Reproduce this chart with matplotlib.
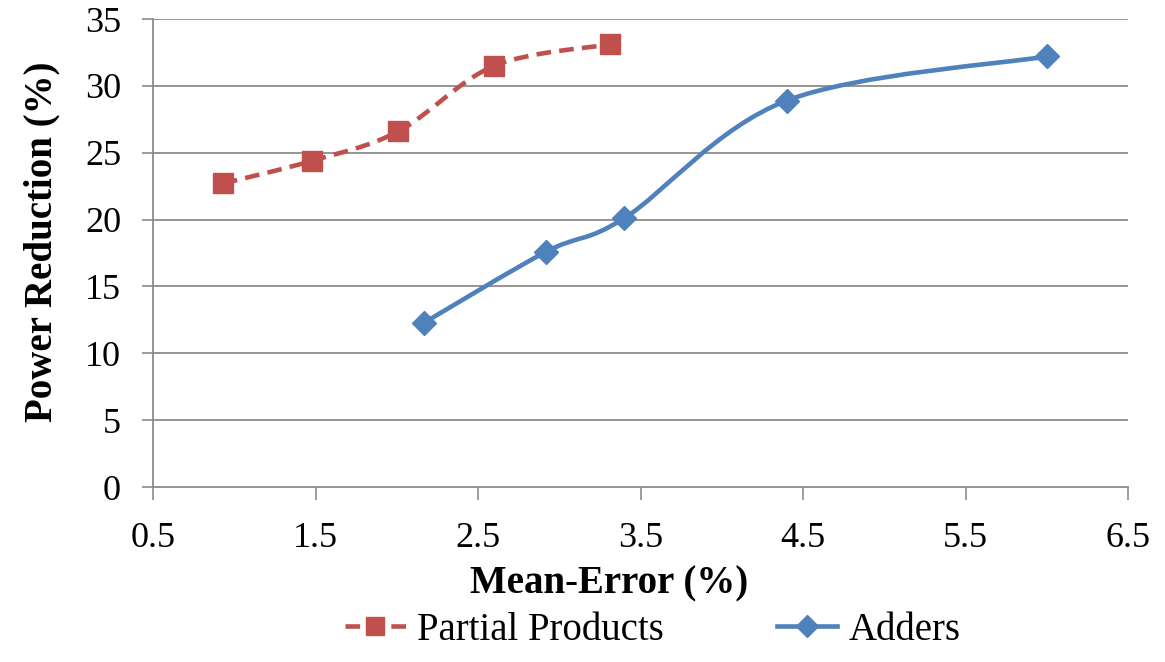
import matplotlib
matplotlib.use("Agg")
import matplotlib.pyplot as plt
from matplotlib.path import Path
from matplotlib.patches import PathPatch
from matplotlib.lines import Line2D
import numpy as np

plt.rcParams['font.family'] = ['Liberation Serif', 'DejaVu Serif']

# ---- data ----
pp_x = [0.93, 1.48, 2.01, 2.60, 3.31]
pp_y = [22.7, 24.4, 26.6, 31.5, 33.1]
add_x = [2.17, 2.92, 3.40, 4.40, 6.00]
add_y = [12.3, 17.6, 20.1, 28.9, 32.2]
series_names = ["Partial Products", "Adders"]
x_ticks = [0.5, 1.5, 2.5, 3.5, 4.5, 5.5, 6.5]
y_ticks = [0, 5, 10, 15, 20, 25, 30, 35]
x_label = "Mean-Error (%)"
y_label = "Power Reduction (%)"

RED = "#C0504D"
BLUE = "#4F81BD"
GRID = "#8C8C8C"
LW = 3.3
DASH = (0, (3.2, 1.8))


def smooth_path(xs, ys):
    """Excel-style smoothed line: cubic Bezier segments through the points."""
    P = np.column_stack([xs, ys]).astype(float)
    n = len(P)
    verts = [P[0]]
    codes = [Path.MOVETO]
    for i in range(n - 1):
        p0 = P[i - 1] if i > 0 else P[i]
        p1 = P[i]
        p2 = P[i + 1]
        p3 = P[i + 2] if i + 2 < n else P[i + 1]
        c1 = p1 + (p2 - p0) / 6.0
        c2 = p2 - (p3 - p1) / 6.0
        verts += [c1, c2, p2]
        codes += [Path.CURVE4] * 3
    return Path(verts, codes)


fig = plt.figure(figsize=(11.65, 6.62), dpi=100)
ax = fig.add_axes([153 / 1165, 1 - 487 / 662, 975 / 1165, 468 / 662])

ax.set_xlim(0.5, 6.5)
ax.set_ylim(0, 35)
ax.set_xticks(x_ticks)
ax.set_yticks(y_ticks)
ax.set_xticklabels([f"{t:.1f}" for t in x_ticks])
ax.set_yticklabels([str(t) for t in y_ticks])

for y in y_ticks[1:]:
    ax.axhline(y, color=GRID, lw=1.3, zorder=1)

for s in ['top', 'right']:
    ax.spines[s].set_visible(False)
for s in ['left', 'bottom']:
    ax.spines[s].set_color(GRID)
    ax.spines[s].set_linewidth(1.3)

ax.tick_params(axis='y', direction='out', length=8, width=1.2, color=GRID,
               labelsize=26, pad=15)
ax.tick_params(axis='x', direction='out', length=9, width=1.2, color=GRID,
               labelsize=26, pad=16)

# Partial products (dashed, squares)
pp_patch = PathPatch(smooth_path(pp_x, pp_y), fill=False, edgecolor=RED,
                     lw=LW, linestyle=DASH, zorder=3)
ax.add_patch(pp_patch)
ax.plot(pp_x, pp_y, linestyle='none', marker='s', markersize=14,
        color=RED, zorder=4)

# Adders (solid, diamonds)
add_patch = PathPatch(smooth_path(add_x, add_y), fill=False, edgecolor=BLUE,
                      lw=LW, zorder=3)
ax.add_patch(add_patch)
ax.plot(add_x, add_y, linestyle='none', marker='D', markersize=12,
        color=BLUE, zorder=4)

ax.set_xlabel(x_label, fontsize=28, fontweight='bold')
ax.xaxis.set_label_coords(0.468, -0.207)
ax.xaxis.label.set_va('center')
ax.set_ylabel(y_label, fontsize=28, fontweight='bold')
ax.yaxis.set_label_coords(-0.114, 0.523)
ax.yaxis.label.set_va('center')

handles = [
    Line2D([], [], color=RED, lw=LW, linestyle=DASH, marker='s',
           markersize=13),
    Line2D([], [], color=BLUE, lw=LW, marker='D', markersize=11),
]
fig.legend(handles, series_names, loc='center',
           bbox_to_anchor=(653 / 1165, 1 - 630 / 662), ncol=2, frameon=False,
           fontsize=28, handlelength=1.55, handletextpad=0.3,
           columnspacing=2.9)

fig.savefig("out.png", dpi=100, facecolor='white')
